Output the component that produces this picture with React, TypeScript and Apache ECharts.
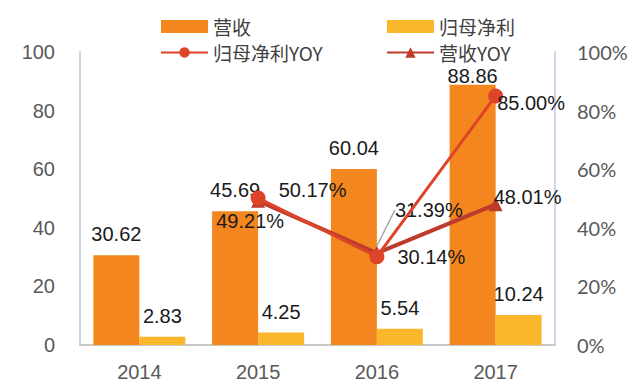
import React, { useEffect, useRef } from "react";
import * as echarts from "echarts";

const years = ["2014", "2015", "2016", "2017"];
const revenue = [30.62, 45.69, 60.04, 88.86];
const netProfit = [2.83, 4.25, 5.54, 10.24];
const netProfitYoy: (number | string)[] = ["-", 50.17, 30.14, 85.0];
const revenueYoy: (number | string)[] = ["-", 49.21, 31.39, 48.01];
const leftTicks = { min: 0, max: 100, interval: 20 };
const rightTicks = { min: 0, max: 100, interval: 20 };

const revenueLabelDistance = [12, 12, 12, 0];
const netYoyOffsets = [[0, 0], [0, -8], [0, 0], [-19, 7]];
const revYoyPos = ["right", "bottom", "right", "right"];
const revYoyShift = [[0, 0], [-8, -10], [-2, -43], [-22, -7]];

export default function App() {
  const ref = useRef<HTMLDivElement>(null);
  useEffect(() => {
    if (!ref.current) return;
    const chart = echarts.init(ref.current, null, { renderer: "svg" });
    const font = "'Liberation Sans', Arial, sans-serif";
    const pctFmt = (p: any) => Number(p.value).toFixed(2) + "%";
    const legendText = {
      fontSize: 19,
      lineHeight: 19,
      color: "#404040",
      fontFamily: "'Noto Sans CJK SC', 'Liberation Sans', sans-serif",
    };
    chart.setOption({
      animation: false,
      backgroundColor: "#ffffff",
      legend: [
        {
          orient: "vertical",
          left: 155,
          top: 12,
          itemWidth: 47,
          itemHeight: 13,
          itemGap: 7,
          textStyle: legendText,
          data: [{ name: "营收", icon: "rect" }, "归母净利YOY"],
        },
        {
          orient: "vertical",
          left: 381,
          top: 12,
          itemWidth: 47,
          itemHeight: 13,
          itemGap: 7,
          textStyle: legendText,
          data: [{ name: "归母净利", icon: "rect" }, "营收YOY"],
        },
      ],
      grid: { left: 80, right: 85, top: 52, bottom: 45, containLabel: false },
      xAxis: {
        type: "category",
        data: years,
        axisLine: { lineStyle: { color: "#c8c8c8", width: 2 } },
        axisTick: { show: false },
        axisLabel: { fontSize: 20, color: "#595959", fontFamily: font, margin: 17 },
      },
      yAxis: [
        {
          type: "value",
          ...leftTicks,
          axisLine: { show: true, lineStyle: { color: "#cbd8e8", width: 2 } },
          axisTick: { show: false },
          splitLine: { show: false },
          axisLabel: { fontSize: 20, color: "#595959", fontFamily: font, margin: 25 },
        },
        {
          type: "value",
          ...rightTicks,
          position: "right",
          axisLine: { show: true, lineStyle: { color: "#cbd8e8", width: 2 } },
          axisTick: { show: false },
          splitLine: { show: false },
          axisLabel: {
            fontSize: 20,
            color: "#595959",
            fontFamily: "Lato, sans-serif",
            margin: 22,
            formatter: "{value}%",
          },
        },
      ],
      series: [
        {
          name: "营收",
          type: "bar",
          data: revenue.map((v, i) => ({ value: v, label: { distance: revenueLabelDistance[i] } })),
          barWidth: 46,
          barGap: "0%",
          itemStyle: { color: "#F3861F" },
          label: { show: true, position: "top", distance: 12, fontSize: 20, lineHeight: 18, color: "#1a1a1a", fontFamily: font },
        },
        {
          name: "归母净利",
          type: "bar",
          data: netProfit,
          barWidth: 46,
          barGap: "0%",
          itemStyle: { color: "#FBB72B" },
          label: { show: true, position: "top", distance: 12, fontSize: 20, lineHeight: 18, color: "#1a1a1a", fontFamily: font },
        },
        {
          name: "营收YOY",
          type: "line",
          yAxisIndex: 1,
          z: 5,
          data: revenueYoy.map((v, i) => ({
            value: v,
            label: { position: revYoyPos[i] },
            labelLine: { show: i === 2 },
          })),
          symbol: "triangle",
          symbolSize: 14,
          lineStyle: { color: "#BE3B2C", width: 4 },
          itemStyle: { color: "#BE3B2C" },
          label: { show: true, distance: 13, fontSize: 20, color: "#1a1a1a", fontFamily: font, formatter: pctFmt },
          labelLayout: (p: any) => ({ dx: revYoyShift[p.dataIndex][0], dy: revYoyShift[p.dataIndex][1] }),
          labelLine: { show: false, lineStyle: { color: "#a6a6a6", width: 1.5 } },
        },
        {
          name: "归母净利YOY",
          type: "line",
          yAxisIndex: 1,
          z: 6,
          data: netProfitYoy.map((v, i) => ({
            value: v,
            label: { offset: netYoyOffsets[i] },
          })),
          symbol: "circle",
          symbolSize: 15,
          lineStyle: { color: "#DE4429", width: 3 },
          itemStyle: { color: "#DE4429" },
          label: {
            show: true,
            position: "right",
            distance: 13,
            fontSize: 20,
            color: "#1a1a1a",
            fontFamily: font,
            formatter: pctFmt,
          },
        },
      ],
    });
    return () => chart.dispose();
  }, []);
  return (
    <div
      ref={ref}
      style={{ position: "fixed", left: 0, top: 0, width: 640, height: 390 }}
    />
  );
}
